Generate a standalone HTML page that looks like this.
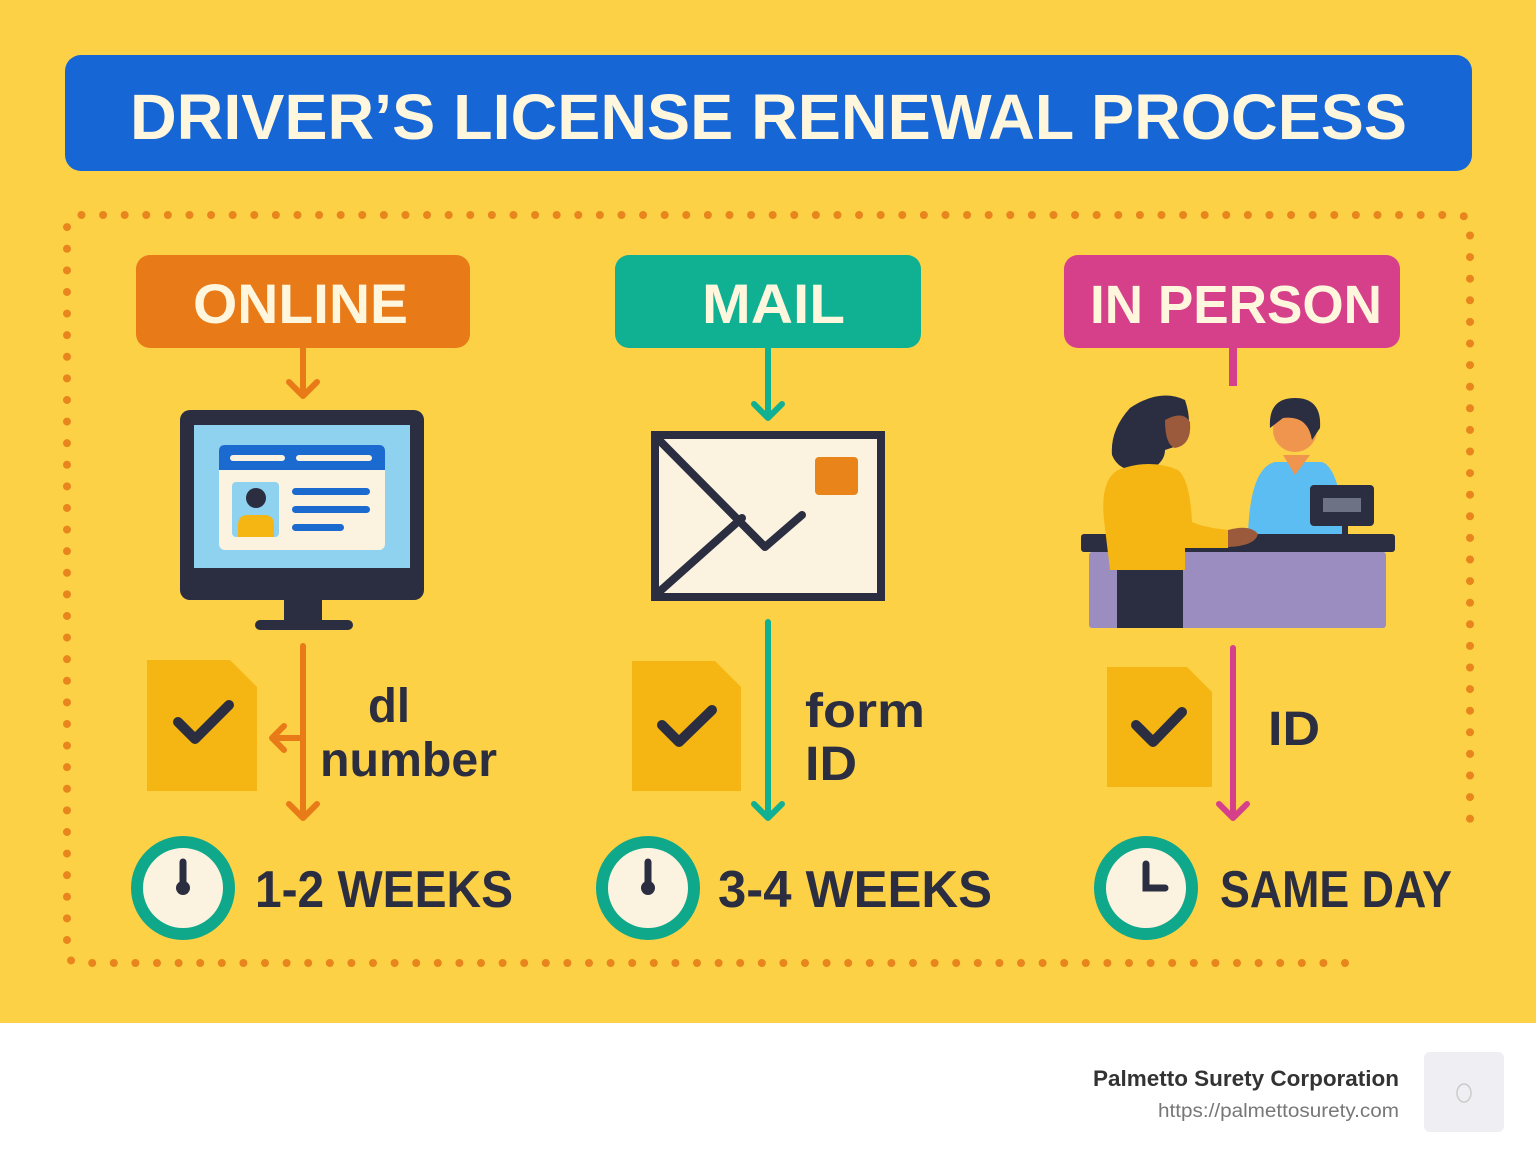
<!DOCTYPE html>
<html><head><meta charset="utf-8"><style>
html,body{margin:0;padding:0;background:#fff}
svg{display:block}
text{font-family:"Liberation Sans","DejaVu Sans",sans-serif;font-weight:bold}
</style></head><body>
<svg width="1536" height="1154" viewBox="0 0 1536 1154" xmlns="http://www.w3.org/2000/svg">
<rect x="0" y="0" width="1536" height="1023" fill="#FCD146"/>
<rect x="0" y="1023" width="1536" height="131" fill="#fff"/>
<!-- title -->
<rect x="65" y="55" width="1407" height="116" rx="16" fill="#1766D6"/>
<text x="130" y="139" font-size="64" fill="#FFF6DE" textLength="1277" lengthAdjust="spacingAndGlyphs">DRIVER’S LICENSE RENEWAL PROCESS</text>
<!-- dotted border -->
<path d="M1345 963 L80 963 Q67 963 67 950 L67 228 Q67 215 80 215 L1457 215 Q1470 215 1470 228 L1470 838" fill="none" stroke="#E8851C" stroke-width="8" stroke-linecap="round" stroke-dasharray="0 21.6"/>
<!-- headers -->
<rect x="136" y="255" width="334" height="93" rx="14" fill="#E87A18"/>
<text x="193" y="323" font-size="56" fill="#FFF6DE" textLength="215" lengthAdjust="spacingAndGlyphs">ONLINE</text>
<rect x="615" y="255" width="306" height="93" rx="14" fill="#10B093"/>
<text x="702" y="323" font-size="56" fill="#FFF6DE" textLength="143" lengthAdjust="spacingAndGlyphs">MAIL</text>
<rect x="1064" y="255" width="336" height="93" rx="14" fill="#D6408A"/>
<text x="1090" y="323" font-size="54" fill="#FFF6DE" textLength="292" lengthAdjust="spacingAndGlyphs">IN PERSON</text>
<g fill="none" stroke-width="6" stroke-linecap="round" stroke-linejoin="round">
<path d="M303 348 V396 M289 382 L303 396 L317 382" stroke="#E87A18"/>
<path d="M303 646 V818 M289 804 L303 818 L317 804 M303 738 H272 M284 726 L272 738 L284 750" stroke="#E87A18"/>
<path d="M768 348 V418 M754 404 L768 418 L782 404" stroke="#10B093"/>
<path d="M768 622 V818 M754 804 L768 818 L782 804" stroke="#10B093"/>
<path d="M1233 348 V386" stroke="#D6408A" stroke-linecap="butt" stroke-width="8"/>
<path d="M1233 648 V818 M1219 804 L1233 818 L1247 804" stroke="#D6408A"/>
</g>
<!-- monitor -->
<rect x="180" y="410" width="244" height="190" rx="10" fill="#2B2D40"/>
<rect x="194" y="425" width="216" height="143" fill="#8FD2F0"/>
<rect x="219" y="445" width="166" height="105" rx="6" fill="#FBF3E0"/>
<path d="M219 451 Q219 445 225 445 H379 Q385 445 385 451 V470 H219 Z" fill="#1A6AD0"/>
<rect x="230" y="455" width="55" height="6" rx="3" fill="#FBF3E0"/><rect x="296" y="455" width="76" height="6" rx="3" fill="#FBF3E0"/>
<rect x="232" y="482" width="47" height="55" rx="4" fill="#8FD2F0"/>
<circle cx="256" cy="498" r="10" fill="#2B2D40"/>
<path d="M238 537 V525 Q238 515 248 515 H264 Q274 515 274 525 V537 Z" fill="#F5B512"/>
<rect x="292" y="488" width="78" height="7" rx="3.5" fill="#1A6AD0"/>
<rect x="292" y="506" width="78" height="7" rx="3.5" fill="#1A6AD0"/>
<rect x="292" y="524" width="52" height="7" rx="3.5" fill="#1A6AD0"/>
<rect x="284" y="598" width="38" height="24" fill="#2B2D40"/>
<rect x="255" y="620" width="98" height="10" rx="5" fill="#2B2D40"/>
<!-- envelope -->
<rect x="655" y="435" width="226" height="162" fill="#FBF3E0" stroke="#2B2D40" stroke-width="8"/>
<path d="M659 440 L765 547 L802 515 M659 592 L742 518" fill="none" stroke="#2B2D40" stroke-width="8" stroke-linejoin="round" stroke-linecap="round"/>
<rect x="815" y="457" width="43" height="38" rx="4" fill="#E8841A"/>
<!-- docs -->
<g fill="#F5B512">
<path d="M147 660 H230 L257 687 V791 H147 Z"/>
<path d="M632 661 H715 L741 687 V791 H632 Z"/>
<path d="M1107 667 H1187 L1212 692 V787 H1107 Z"/>
</g>
<g fill="none" stroke="#2B2D40" stroke-width="10" stroke-linecap="round" stroke-linejoin="round">
<path d="M178 722 L195 739 L229 705"/>
<path d="M662 725 L679 742 L712 710"/>
<path d="M1136 725 L1153 742 L1182 712"/>
</g>
<!-- labels -->
<g fill="#2B2D40" font-size="48">
<text x="368" y="722" textLength="42" lengthAdjust="spacingAndGlyphs">dl</text>
<text x="320" y="776" textLength="177" lengthAdjust="spacingAndGlyphs">number</text>
<text x="805" y="727" textLength="120" lengthAdjust="spacingAndGlyphs">form</text>
<text x="805" y="780" textLength="52" lengthAdjust="spacingAndGlyphs">ID</text>
<text x="1268" y="745" textLength="52" lengthAdjust="spacingAndGlyphs">ID</text>
</g>
<!-- person scene -->
<path d="M1248 535 Q1250 468 1275 462 H1322 Q1340 468 1345 535 Z" fill="#5BBDF2"/>
<path d="M1283 455 L1295 475 L1310 455 Z" fill="#F0954E"/>
<circle cx="1295" cy="430" r="22" fill="#F0954E"/>
<path d="M1270 428 Q1268 398 1295 398 Q1322 398 1320 428 L1312 440 Q1308 415 1283 418 Z" fill="#2B2D40"/>
<rect x="1310" y="485" width="64" height="41" rx="4" fill="#2B2D40"/>
<rect x="1323" y="498" width="38" height="14" fill="#6D7284"/>
<rect x="1342" y="525" width="6" height="12" fill="#2B2D40"/>
<rect x="1081" y="534" width="314" height="18" rx="3" fill="#2B2D40"/>
<rect x="1089" y="552" width="297" height="76" rx="3" fill="#9B8DC0"/>
<path d="M1130 408 Q1160 388 1185 400 Q1195 430 1180 445 L1165 450 Q1165 462 1150 470 Q1120 475 1112 455 Q1110 430 1130 408 Z" fill="#2B2D40"/>
<path d="M1165 420 Q1183 410 1190 422 Q1192 445 1175 448 Q1165 445 1165 420 Z" fill="#9B5A3C"/>
<path d="M1118 470 Q1100 480 1104 520 L1110 570 H1185 V548 Q1205 548 1228 548 L1230 530 Q1205 528 1192 522 Q1190 480 1178 470 Q1150 458 1118 470 Z" fill="#F5B512"/>
<path d="M1228 530 Q1250 524 1258 534 Q1255 546 1228 547 Z" fill="#9B5A3C"/>
<rect x="1117" y="570" width="66" height="58" fill="#2B2D40"/>
<!-- clocks -->
<g fill="#FBF3E0" stroke="#10A88A" stroke-width="12">
<circle cx="183" cy="888" r="46"/>
<circle cx="648" cy="888" r="46"/>
<circle cx="1146" cy="888" r="46"/>
</g>
<g fill="none" stroke="#2B2D40" stroke-width="7" stroke-linecap="round">
<path d="M183 862 V888"/><path d="M648 862 V888"/><path d="M1146 864 V888 H1165"/>
</g>
<circle cx="183" cy="888" r="7" fill="#2B2D40"/><circle cx="648" cy="888" r="7" fill="#2B2D40"/>
<g fill="#2B2D40" font-size="52">
<text x="255" y="907" textLength="258" lengthAdjust="spacingAndGlyphs">1-2 WEEKS</text>
<text x="718" y="907" textLength="274" lengthAdjust="spacingAndGlyphs">3-4 WEEKS</text>
<text x="1220" y="907" textLength="232" lengthAdjust="spacingAndGlyphs">SAME DAY</text>
</g>
<!-- footer -->
<text x="1093" y="1086" font-size="22" fill="#333" textLength="306" lengthAdjust="spacingAndGlyphs">Palmetto Surety Corporation</text>
<text x="1158" y="1117" font-size="19" fill="#777" style="font-weight:normal" textLength="241" lengthAdjust="spacingAndGlyphs">https://palmettosurety.com</text>
<rect x="1424" y="1052" width="80" height="80" rx="6" fill="#EEEEF3"/>
<ellipse cx="1464" cy="1093" rx="7" ry="9" fill="none" stroke="#ccc" stroke-width="1.5"/>
</svg>
</body></html>
